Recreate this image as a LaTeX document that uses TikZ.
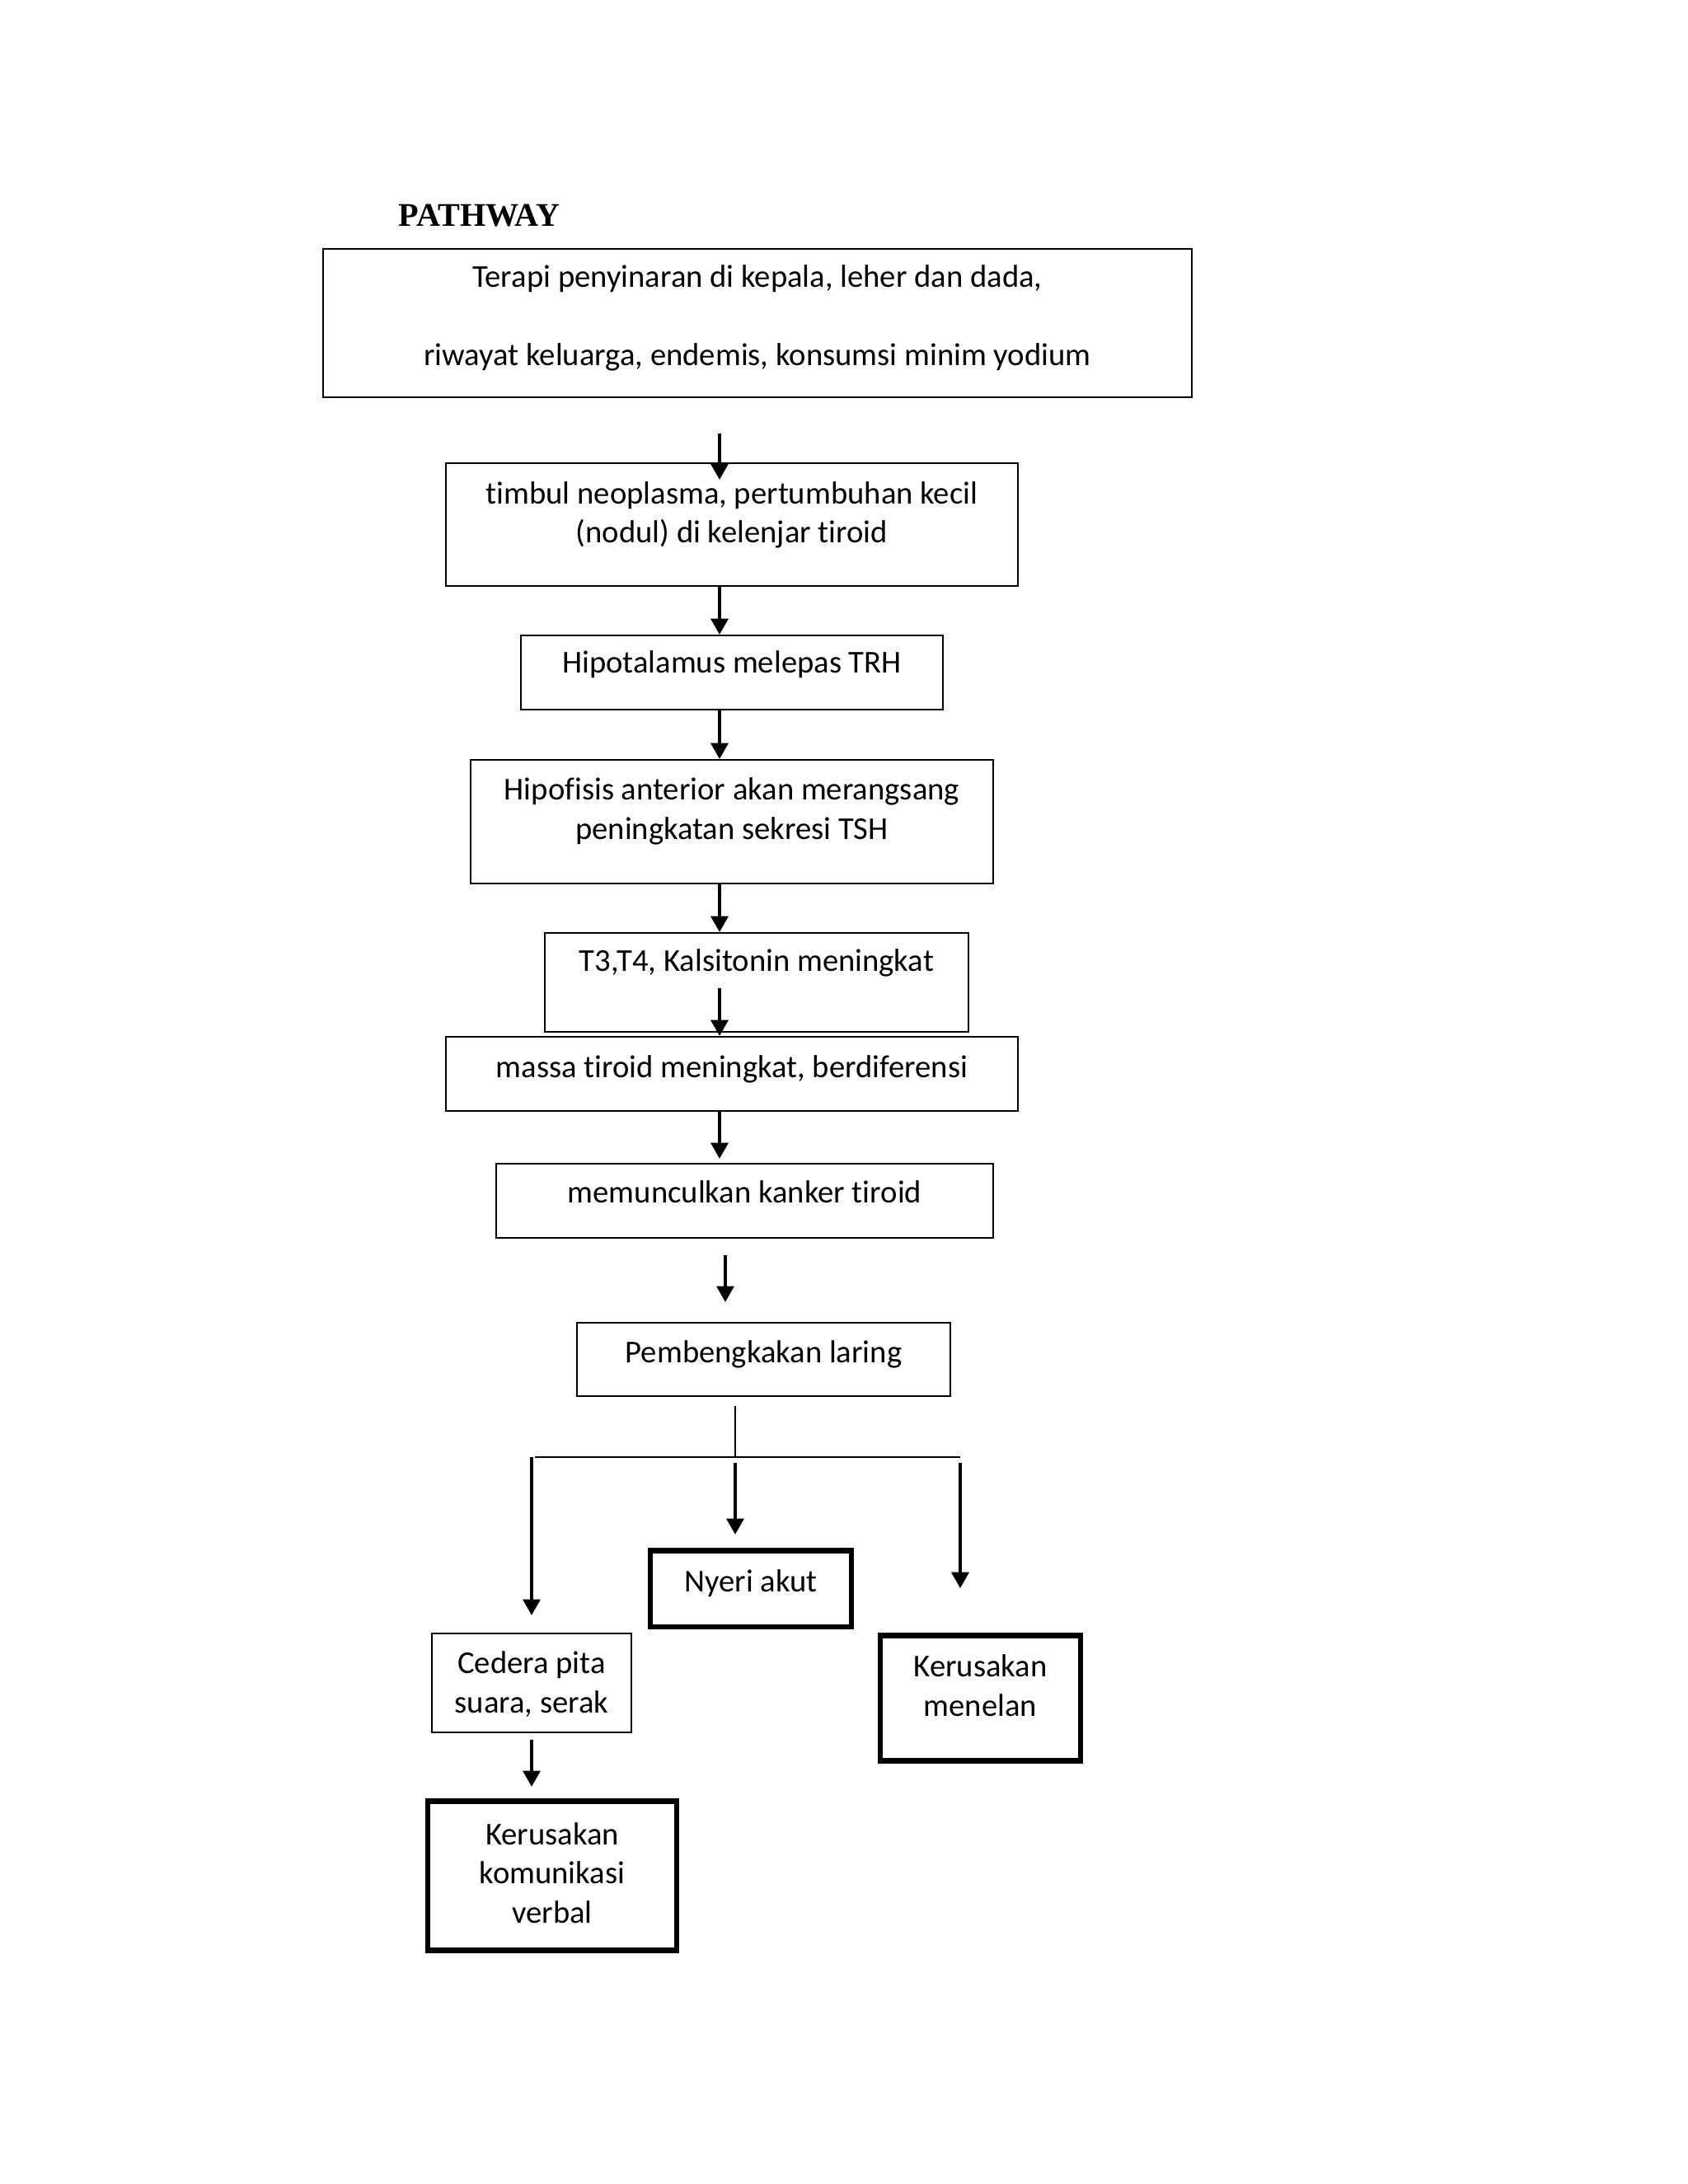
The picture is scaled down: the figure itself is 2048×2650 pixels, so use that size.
\documentclass[tikz,border=0pt]{standalone}
\usepackage{fontspec}
\setmainfont{Carlito}[Ligatures=NoCommon]
\newfontfamily\pathfont{Liberation Serif}
\usepackage{tikz}
\usetikzlibrary{arrows.meta, positioning}
\tikzstyle{box}=[rectangle, draw=black, line width=0.7pt, anchor=north, align=center, inner sep=0pt, font=\fontsize{11.55}{14.2}\selectfont]
\tikzstyle{diag}=[box, line width=2pt]
\tikzstyle{arr}=[line width=1.25pt, -{Triangle[length=5.8pt,width=6.2pt]}]
\tikzstyle{ln}=[line width=0.6pt]

\begin{document}
\begin{tikzpicture}[x=0.29883pt, y=-0.29883pt]
        \useasboundingbox (0,0) rectangle (2048,2650);
        \node (title) [anchor=base west, inner sep=0pt, font=\fontsize{12}{14}\selectfont\pathfont\bfseries] at (483,274) {PATHWAY};

        \node[box] (b1) at (919,301) [minimum width=315pt, text height=42.1pt, text depth=11.7pt] {Terapi penyinaran di kepala, leher dan dada,\\[14.2pt] riwayat keluarga, endemis, konsumsi minim yodium};
        \node[box] (b2) at (888,561) [minimum width=207.4pt, text height=28.8pt, text depth=15.7pt] {timbul neoplasma, pertumbuhan kecil\\(nodul) di kelenjar tiroid};
        \node[box] (b3) at (888,770) [minimum width=153pt, text height=13.4pt, text depth=13.4pt] {Hipotalamus melepas TRH};
        \node[box] (b4) at (888,921) [minimum width=189.5pt, text height=28.7pt, text depth=16.1pt] {Hipofisis anterior akan merangsang\\peningkatan sekresi TSH};
        \node[box] (b5) at (918,1131) [minimum width=153.6pt, text height=13.7pt, text depth=22.1pt] {T3,T4, Kalsitonin meningkat};
        \node[box] (b6) at (888,1257) [minimum width=207.4pt, text height=14.6pt, text depth=12.3pt] {massa tiroid meningkat, berdiferensi};
        \node[box] (b7) at (903.5,1411) [minimum width=180.2pt, text height=14pt, text depth=12.8pt] {memunculkan kanker tiroid};
        \node[box] (b8) at (926.5,1604) [minimum width=135.4pt, text height=14.3pt, text depth=12.3pt] {Pembengkakan laring};

        \node[diag] (n1) at (911,1878) [minimum width=72.9pt, text height=14.9pt, text depth=12.8pt] {Nyeri akut};
        \node[box] (c1) at (645,1981) [line width=0.6pt, minimum width=72.3pt, text height=28.7pt, text depth=7.2pt] {Cedera pita\\suara, serak};
        \node[diag] (d1) at (670,2182) [minimum width=90.2pt, text height=44.2pt, text depth=9.9pt] {Kerusakan\\komunikasi\\verbal};
        \node[diag] (d2) at (1189.5,1981) [minimum width=72.6pt, text height=29.3pt, text depth=16.1pt] {Kerusakan\\menelan};

        \coordinate (s1) at (873,0);
        \coordinate (s2) at (880,0);
        \coordinate (jm) at (892,1768);
        \coordinate (jl) at (649,1768);
        \coordinate (jr) at (1165,1768);

        \draw[arr, shorten <=12.6pt, shorten >=-6.3pt] (b1.south -| s1) -- (b2.north -| s1);
        \draw[arr] (b2.south -| s1) -- (b3.north -| s1);
        \draw[arr] (b3.south -| s1) -- (b4.north -| s1);
        \draw[arr] (b4.south -| s1) -- (b5.north -| s1);
        \draw[arr, shorten <=2pt] (b5.center -| s1) -- (b6.north -| s1);
        \draw[arr, shorten >=1.5pt] (b6.south -| s1) -- (b7.north -| s1);
        \draw[arr, shorten <=6pt, shorten >=7.2pt] (b7.south -| s2) -- (b8.north -| s2);

        \draw[ln, shorten <=3.3pt] (b8.south -| jm) -- (jm);
        \draw[ln] (jl) -- (jr);
        \draw[arr, shorten >=6.3pt] (c1 |- jl) -- (c1.north);
        \draw[arr, shorten <=2pt, shorten >=4.8pt] (jm) -- (n1.north -| jm);
        \draw[arr, shorten <=2pt, shorten >=16.1pt] (jr) -- (d2.north -| jr);
        \draw[arr, shorten <=2.4pt, shorten >=4.2pt] (c1.south) -- (d1.north -| c1);
\end{tikzpicture}
\end{document}
